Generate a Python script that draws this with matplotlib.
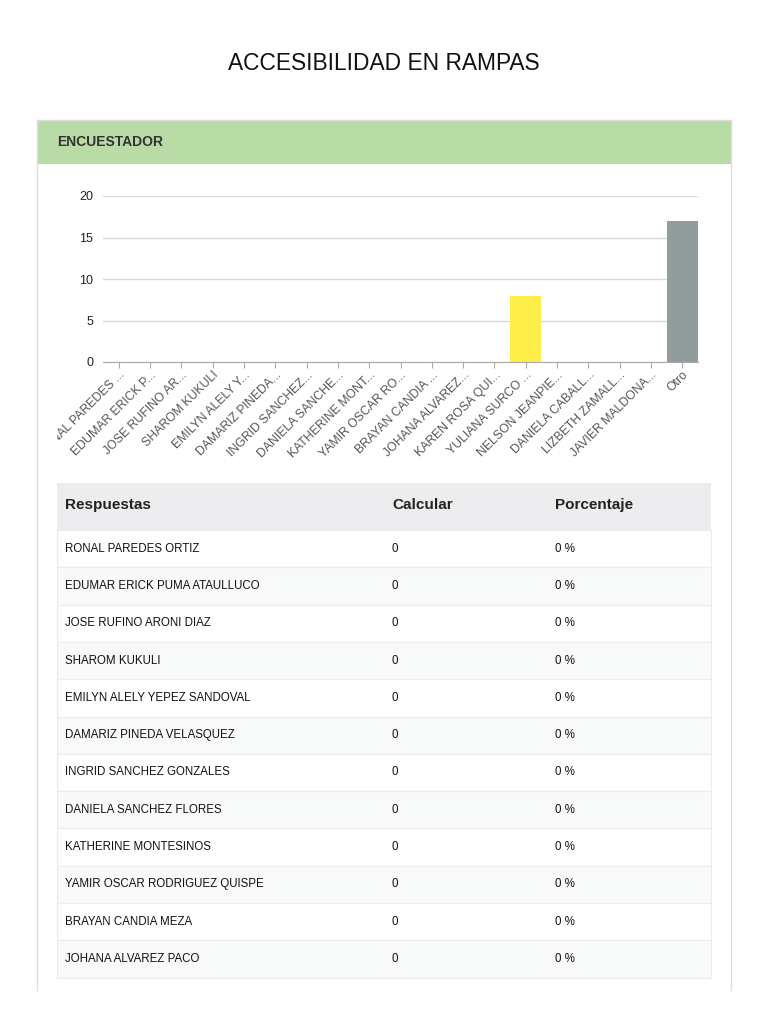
import matplotlib.pyplot as plt
from matplotlib.patches import Rectangle
from matplotlib.lines import Line2D
from matplotlib.transforms import Bbox, TransformedBbox

plt.rcParams['font.family'] = ['Liberation Sans', 'DejaVu Sans']

# data
categorias = ["RONAL PAREDES ...", "EDUMAR ERICK P...", "JOSE RUFINO AR...", "SHAROM KUKULI",
              "EMILYN ALELY Y...", "DAMARIZ PINEDA...", "INGRID SANCHEZ...", "DANIELA SANCHE...",
              "KATHERINE MONT...", "YAMIR OSCAR RO...", "BRAYAN CANDIA ...", "JOHANA ALVAREZ...",
              "KAREN ROSA QUI...", "YULIANA SURCO ...", "NELSON JEANPIE...", "DANIELA CABALL...",
              "LIZBETH ZAMALL...", "JAVIER MALDONA...", "Otro"]
valores = [0, 0, 0, 0, 0, 0, 0, 0, 0, 0, 0, 0, 0, 8, 0, 0, 0, 0, 17]
colores = ['#4e79a7'] * 19
colores[13] = '#fdee4a'
colores[18] = '#939c9d'
yticks = [0, 5, 10, 15, 20]

respuestas = ["RONAL PAREDES ORTIZ", "EDUMAR ERICK PUMA ATAULLUCO", "JOSE RUFINO ARONI DIAZ",
              "SHAROM KUKULI", "EMILYN ALELY YEPEZ SANDOVAL", "DAMARIZ PINEDA VELASQUEZ",
              "INGRID SANCHEZ GONZALES", "DANIELA SANCHEZ FLORES", "KATHERINE MONTESINOS",
              "YAMIR OSCAR RODRIGUEZ QUISPE", "BRAYAN CANDIA MEZA", "JOHANA ALVAREZ PACO"]
calcular = [0] * 12
porcentaje = ["0 %"] * 12

W, H = 768, 1024
fig = plt.figure(figsize=(W / 100, H / 100), dpi=100)

def fx(x):
    return x / W

def fy(y):
    return 1 - y / H

def rect(x0, y0, x1, y1, **kw):
    fig.patches.append(Rectangle((fx(x0), fy(y1)), fx(x1) - fx(x0), (y1 - y0) / H,
                                 transform=fig.transFigure, zorder=-5, **kw))

def vline(x, y0, y1, color):
    fig.lines.append(Line2D([fx(x), fx(x)], [fy(y0), fy(y1)], transform=fig.transFigure,
                            color=color, linewidth=1, zorder=-4))

# title
fig.text(0.5, fy(64), "ACCESIBILIDAD EN RAMPAS", ha='center', va='center', fontsize=16.4, color='#111111')

# card
rect(37, 120, 731, 164, facecolor='#b9dba6', edgecolor='none')
fig.lines.append(Line2D([fx(37), fx(731)], [fy(120), fy(120)], transform=fig.transFigure,
                        color='#dddddd', linewidth=1, zorder=-4))
vline(37, 120, 990, '#dddddd')
vline(731, 120, 990, '#dddddd')
fig.text(fx(57), fy(142), "ENCUESTADOR", ha='left', va='center', fontsize=10, fontweight='bold', color='#333333')

# chart
ax = fig.add_axes([fx(103), fy(362), fx(698) - fx(103), 166 / H])
ax.set_zorder(5)
ax.patch.set_alpha(0)
x = list(range(len(categorias)))
ax.bar(x, valores, width=1.0, color=colores)
ax.set_xlim(-0.5, len(categorias) - 0.5)
ax.set_ylim(0, 20)
ax.set_yticks(yticks)
ax.grid(axis='y', color='#d9d9d9', linewidth=1)
ax.set_axisbelow(True)
for s in ['top', 'right', 'left']:
    ax.spines[s].set_visible(False)
ax.spines['bottom'].set_color('#aaaaaa')
ax.tick_params(axis='y', length=0, pad=7, labelsize=9, labelcolor='#222222')
ax.tick_params(axis='x', length=4, color='#aaaaaa', pad=1, labelsize=8.8, labelcolor='#555555')
ax.set_xticks(x)
ax.set_xticklabels(categorias, rotation=45, ha='right', rotation_mode='anchor')
clip = TransformedBbox(Bbox([[fx(57), 0], [fx(731), 1]]), fig.transFigure)
for lbl in ax.get_xticklabels():
    lbl.set_clip_on(True)
    lbl.set_clip_box(clip)

# table
tx0, tx1 = 57, 711
rect(tx0, 483, tx1, 530, facecolor='#ededf0', edgecolor='none')
fig.text(fx(65), fy(505), "Respuestas", ha='left', va='center', fontsize=11, fontweight='bold', color='#222222')
fig.text(fx(392), fy(505), "Calcular", ha='left', va='center', fontsize=11, fontweight='bold', color='#222222')
fig.text(fx(555), fy(505), "Porcentaje", ha='left', va='center', fontsize=11, fontweight='bold', color='#222222')
row_h = 37.3
for i, (nombre, c, p) in enumerate(zip(respuestas, calcular, porcentaje)):
    y0 = 530 + i * row_h
    bg = 'white' if i % 2 == 0 else '#f8f9f9'
    rect(tx0, y0, tx1, y0 + row_h, facecolor=bg, edgecolor='#ececec', linewidth=0.8)
    yc = y0 + row_h / 2
    fig.text(fx(65), fy(yc), nombre, ha='left', va='center', fontsize=8.3, color='#111111')
    fig.text(fx(392), fy(yc), str(c), ha='left', va='center', fontsize=8.3, color='#111111')
    fig.text(fx(555), fy(yc), p, ha='left', va='center', fontsize=8.3, color='#111111')

fig.savefig('out.png', dpi=100)
